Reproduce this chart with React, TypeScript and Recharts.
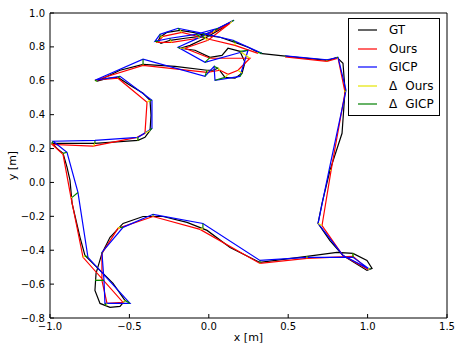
import { LineChart, Line, XAxis, YAxis, Legend } from 'recharts'

type Pt = { x: number; y: number | null }

const xTicks = [-1, -0.5, 0, 0.5, 1, 1.5]
const yTicks = [-0.8, -0.6, -0.4, -0.2, 0, 0.2, 0.4, 0.6, 0.8, 1.0]

// ground truth trajectory (dense)
const gtPath: Pt[] = [
  { x: 0.31, y: 0.768 }, { x: 0.247, y: 0.798 }, { x: 0.165, y: 0.827 }, { x: 0.071, y: 0.857 },
  { x: -0.024, y: 0.868 }, { x: -0.099, y: 0.886 }, { x: -0.181, y: 0.898 }, { x: -0.263, y: 0.886 },
  { x: -0.307, y: 0.857 }, { x: -0.32, y: 0.833 }, { x: -0.301, y: 0.821 }, { x: -0.244, y: 0.839 },
  { x: -0.15, y: 0.851 }, { x: -0.055, y: 0.862 }, { x: 0.039, y: 0.898 }, { x: 0.146, y: 0.951 },
  { x: 0.083, y: 0.91 }, { x: -0.024, y: 0.851 }, { x: -0.118, y: 0.809 }, { x: -0.181, y: 0.792 },
  { x: -0.087, y: 0.78 }, { x: 0.008, y: 0.738 }, { x: 0.083, y: 0.75 }, { x: 0.121, y: 0.792 },
  { x: 0.196, y: 0.774 }, { x: 0.228, y: 0.709 }, { x: 0.209, y: 0.644 }, { x: 0.165, y: 0.615 },
  { x: 0.102, y: 0.62 }, { x: 0.058, y: 0.674 }, { x: 0.026, y: 0.662 },
  { x: -0.011, y: 0.662 }, { x: -0.213, y: 0.685 }, { x: -0.414, y: 0.697 }, { x: -0.559, y: 0.662 },
  { x: -0.704, y: 0.597 }, { x: -0.635, y: 0.615 }, { x: -0.572, y: 0.62 }, { x: -0.496, y: 0.573 },
  { x: -0.414, y: 0.526 }, { x: -0.37, y: 0.485 }, { x: -0.364, y: 0.396 }, { x: -0.37, y: 0.307 },
  { x: -0.402, y: 0.266 }, { x: -0.446, y: 0.248 }, { x: -0.717, y: 0.231 }, { x: -0.987, y: 0.231 },
  { x: -0.956, y: 0.201 }, { x: -0.918, y: 0.172 }, { x: -0.893, y: 0.09 }, { x: -0.874, y: 0.012 },
  { x: -0.861, y: -0.123 }, { x: -0.811, y: -0.324 }, { x: -0.78, y: -0.431 }, { x: -0.685, y: -0.519 },
  { x: -0.603, y: -0.596 }, { x: -0.528, y: -0.696 }, { x: -0.559, y: -0.731 }, { x: -0.622, y: -0.737 },
  { x: -0.685, y: -0.714 }, { x: -0.717, y: -0.637 }, { x: -0.71, y: -0.537 }, { x: -0.673, y: -0.419 },
  { x: -0.622, y: -0.324 }, { x: -0.54, y: -0.242 }, { x: -0.414, y: -0.201 }, { x: -0.288, y: -0.201 },
  { x: -0.137, y: -0.236 }, { x: -0.011, y: -0.283 }, { x: 0.134, y: -0.384 }, { x: 0.322, y: -0.472 },
  { x: 0.618, y: -0.436 }, { x: 0.807, y: -0.413 }, { x: 0.908, y: -0.419 }, { x: 0.996, y: -0.46 },
  { x: 1.028, y: -0.507 }, { x: 0.996, y: -0.519 }, { x: 0.845, y: -0.431 }, { x: 0.763, y: -0.343 },
  { x: 0.688, y: -0.242 }, { x: 0.713, y: -0.123 }, { x: 0.763, y: 0.071 }, { x: 0.839, y: 0.29 },
  { x: 0.858, y: 0.544 }, { x: 0.845, y: 0.703 }, { x: 0.807, y: 0.738 }, { x: 0.751, y: 0.721 },
  { x: 0.555, y: 0.738 }, { x: 0.322, y: 0.762 },
]

// ground truth at the keyframes
const gtKeys: Pt[] = [
  { x: 0.31, y: 0.768 }, { x: 0.165, y: 0.827 }, { x: -0.024, y: 0.868 }, { x: -0.181, y: 0.898 },
  { x: -0.307, y: 0.857 }, { x: -0.32, y: 0.833 }, { x: -0.244, y: 0.839 }, { x: -0.055, y: 0.862 },
  { x: 0.039, y: 0.898 }, { x: 0.146, y: 0.951 }, { x: -0.024, y: 0.851 }, { x: -0.181, y: 0.792 },
  { x: 0.008, y: 0.738 }, { x: 0.196, y: 0.774 }, { x: 0.209, y: 0.644 }, { x: 0.102, y: 0.62 },
  { x: 0.058, y: 0.674 }, { x: -0.011, y: 0.662 }, { x: -0.414, y: 0.697 }, { x: -0.704, y: 0.597 },
  { x: -0.572, y: 0.62 }, { x: -0.37, y: 0.485 }, { x: -0.37, y: 0.307 }, { x: -0.446, y: 0.248 },
  { x: -0.717, y: 0.231 }, { x: -0.987, y: 0.231 }, { x: -0.918, y: 0.172 }, { x: -0.861, y: -0.088 },
  { x: -0.78, y: -0.431 }, { x: -0.528, y: -0.696 }, { x: -0.647, y: -0.726 }, { x: -0.717, y: -0.578 },
  { x: -0.673, y: -0.419 }, { x: -0.559, y: -0.265 }, { x: -0.351, y: -0.196 }, { x: -0.037, y: -0.271 },
  { x: 0.322, y: -0.472 }, { x: 0.618, y: -0.436 }, { x: 0.908, y: -0.419 }, { x: 1.015, y: -0.507 },
  { x: 0.845, y: -0.431 }, { x: 0.688, y: -0.242 }, { x: 0.763, y: 0.071 }, { x: 0.858, y: 0.544 },
  { x: 0.807, y: 0.738 }, { x: 0.744, y: 0.721 }, { x: 0.48, y: 0.744 },
]

const oursKeys: Pt[] = [
  { x: 0.31, y: 0.762 }, { x: 0.165, y: 0.809 }, { x: -0.024, y: 0.851 }, { x: -0.169, y: 0.886 },
  { x: -0.288, y: 0.862 }, { x: -0.326, y: 0.827 }, { x: -0.232, y: 0.827 }, { x: -0.068, y: 0.851 },
  { x: 0.026, y: 0.886 }, { x: 0.134, y: 0.939 }, { x: -0.005, y: 0.839 }, { x: -0.15, y: 0.792 },
  { x: 0.008, y: 0.733 }, { x: 0.259, y: 0.733 }, { x: 0.184, y: 0.662 }, { x: 0.121, y: 0.638 },
  { x: 0.071, y: 0.662 }, { x: -0.011, y: 0.65 }, { x: -0.414, y: 0.691 }, { x: -0.717, y: 0.603 },
  { x: -0.572, y: 0.615 }, { x: -0.389, y: 0.473 }, { x: -0.402, y: 0.29 }, { x: -0.452, y: 0.266 },
  { x: -0.729, y: 0.214 }, { x: -0.987, y: 0.225 }, { x: -0.918, y: 0.166 }, { x: -0.868, y: -0.088 },
  { x: -0.792, y: -0.442 }, { x: -0.54, y: -0.708 }, { x: -0.641, y: -0.714 }, { x: -0.673, y: -0.578 },
  { x: -0.673, y: -0.419 }, { x: -0.572, y: -0.271 }, { x: -0.351, y: -0.201 }, { x: -0.055, y: -0.277 },
  { x: 0.322, y: -0.478 }, { x: 0.618, y: -0.448 }, { x: 0.908, y: -0.436 }, { x: 1.003, y: -0.513 },
  { x: 0.845, y: -0.431 }, { x: 0.713, y: -0.254 }, { x: 0.77, y: 0.071 }, { x: 0.858, y: 0.532 },
  { x: 0.814, y: 0.733 }, { x: 0.744, y: 0.715 }, { x: 0.48, y: 0.741 },
]

const gicpKeys: Pt[] = [
  { x: 0.335, y: 0.762 }, { x: 0.152, y: 0.839 }, { x: -0.037, y: 0.88 }, { x: -0.194, y: 0.91 },
  { x: -0.307, y: 0.874 }, { x: -0.339, y: 0.833 }, { x: -0.244, y: 0.851 }, { x: -0.081, y: 0.874 },
  { x: 0.058, y: 0.91 }, { x: 0.159, y: 0.957 }, { x: -0.043, y: 0.862 }, { x: -0.194, y: 0.798 },
  { x: -0.024, y: 0.709 }, { x: 0.247, y: 0.78 }, { x: 0.196, y: 0.626 }, { x: 0.039, y: 0.603 },
  { x: 0.033, y: 0.685 }, { x: -0.024, y: 0.626 }, { x: -0.414, y: 0.727 }, { x: -0.717, y: 0.603 },
  { x: -0.559, y: 0.626 }, { x: -0.358, y: 0.485 }, { x: -0.358, y: 0.319 }, { x: -0.446, y: 0.266 },
  { x: -0.717, y: 0.248 }, { x: -0.981, y: 0.243 }, { x: -0.893, y: 0.178 }, { x: -0.824, y: -0.059 },
  { x: -0.761, y: -0.442 }, { x: -0.496, y: -0.714 }, { x: -0.654, y: -0.714 }, { x: -0.66, y: -0.578 },
  { x: -0.673, y: -0.413 }, { x: -0.54, y: -0.265 }, { x: -0.351, y: -0.188 }, { x: -0.037, y: -0.242 },
  { x: 0.322, y: -0.46 }, { x: 0.618, y: -0.442 }, { x: 0.908, y: -0.442 }, { x: 1.015, y: -0.513 },
  { x: 0.845, y: -0.431 }, { x: 0.688, y: -0.242 }, { x: 0.757, y: 0.071 }, { x: 0.864, y: 0.544 },
  { x: 0.814, y: 0.738 }, { x: 0.744, y: 0.724 }, { x: 0.48, y: 0.747 },
]

const seriesNames = ['GT', 'Ours', 'GICP', '\u0394 Ours', '\u0394 GICP']
const seriesColors = ['#000000', '#ff0000', '#0000ff', '#e4e400', '#008000']

// short segments from each keyframe estimate to ground truth, broken by nulls
function deltaSegments(est: Pt[], gt: Pt[]): Pt[] {
  const out: Pt[] = []
  est.forEach((p, i) => {
    out.push(p, gt[i], { x: gt[i].x, y: null })
  })
  return out
}

const deltaOurs = deltaSegments(oursKeys, gtKeys)
const deltaGicp = deltaSegments(gicpKeys, gtKeys)

const font = 'DejaVu Sans'
const tickStyle = { fontSize: 10, fill: '#000', fontFamily: font }
const fmt = (v: number) => (v < 0 ? '\u2212' : '') + Math.abs(v).toFixed(1)

function LegendBox() {
  return (
    <div
      style={{
        border: '1px solid #000',
        background: '#fff',
        width: 90,
        height: 94,
        boxSizing: 'content-box',
        fontFamily: font,
        fontSize: 12,
        color: '#000',
        paddingTop: 2,
      }}
    >
      {seriesNames.map((name, i) => (
        <div key={name} style={{ display: 'flex', alignItems: 'center', height: 18.5 }}>
          <svg width={40} height={4} style={{ flex: 'none' }}>
            <line x1={9} y1={2} x2={28} y2={2} stroke={seriesColors[i]} strokeWidth={1.2} />
          </svg>
          {name.startsWith('\u0394') ? (
            <span>
              <span style={{ marginRight: 8 }}>{'\u0394'}</span>
              {name.slice(2)}
            </span>
          ) : (
            <span>{name}</span>
          )}
        </div>
      ))}
    </div>
  )
}

const lineProps = {
  xAxisId: 'b',
  yAxisId: 'l',
  dataKey: 'y',
  strokeWidth: 1.2,
  dot: false,
  activeDot: false,
  type: 'linear' as const,
  isAnimationActive: false,
}

export default function App() {
  return (
    <div style={{ position: 'absolute', left: 0, top: 0, background: '#fff' }}>
      <LineChart width={474} height={352} margin={{ top: 12, right: 26, left: 0, bottom: 0 }}>
        <XAxis
          xAxisId="b"
          type="number"
          dataKey="x"
          domain={[-1, 1.5]}
          ticks={xTicks}
          allowDataOverflow
          height={34}
          tickSize={-4}
          tickMargin={9}
          tick={tickStyle}
          tickFormatter={fmt}
          stroke="#000"
          label={{ value: 'x [m]', position: 'insideBottom', offset: 11, fontSize: 11, fill: '#000', fontFamily: font }}
        />
        <XAxis
          xAxisId="t"
          orientation="top"
          type="number"
          dataKey="x"
          domain={[-1, 1.5]}
          ticks={xTicks}
          allowDataOverflow
          height={1}
          tickSize={-4}
          tick={false}
          stroke="#000"
        />
        <YAxis
          yAxisId="l"
          type="number"
          domain={[-0.8, 1.0]}
          ticks={yTicks}
          allowDataOverflow
          width={50}
          tickSize={-4}
          tickMargin={9}
          tick={tickStyle}
          tickFormatter={fmt}
          stroke="#000"
          label={{
            value: 'y [m]',
            angle: -90,
            position: 'insideLeft',
            offset: 12,
            textAnchor: 'middle',
            style: { textAnchor: 'middle' },
            fontSize: 11,
            fill: '#000',
            fontFamily: font,
          }}
        />
        <YAxis
          yAxisId="r"
          orientation="right"
          type="number"
          domain={[-0.8, 1.0]}
          ticks={yTicks}
          allowDataOverflow
          width={1}
          tickSize={-4}
          tick={false}
          stroke="#000"
        />
        <Line {...lineProps} data={gtPath} name="GT" stroke={seriesColors[0]} />
        <Line {...lineProps} data={oursKeys} name="Ours" stroke={seriesColors[1]} />
        <Line {...lineProps} data={gicpKeys} name="GICP" stroke={seriesColors[2]} />
        <Line {...lineProps} data={deltaOurs} name="dOurs" stroke={seriesColors[3]} />
        <Line {...lineProps} data={deltaGicp} name="dGICP" stroke={seriesColors[4]} />
        <Legend
          layout="horizontal"
          verticalAlign="middle"
          align="center"
          content={() => <LegendBox />}
          wrapperStyle={{ left: 348, top: 18, width: 92 }}
        />
      </LineChart>
    </div>
  )
}
